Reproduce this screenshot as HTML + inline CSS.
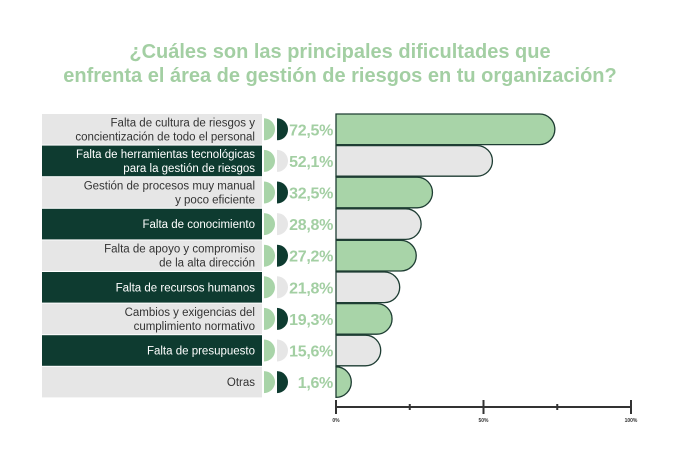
<!DOCTYPE html>
<html><head><meta charset="utf-8"><style>
body{margin:0;background:#fff;width:681px;height:464px;overflow:hidden;font-family:"Liberation Sans",sans-serif}
</style></head><body>
<svg id="c" width="681" height="464">
<text x="340" y="58" text-anchor="middle" font-size="20" font-weight="bold" fill="#a3cfa3">¿Cuáles son las principales dificultades que</text>
<text x="340" y="82" text-anchor="middle" font-size="20" font-weight="bold" fill="#a3cfa3">enfrenta el área de gestión de riesgos en tu organización?</text>
<g id="rows"></g>
<g id="axis"></g>
</svg>
<script>
const categories=[["Falta de cultura de riesgos y","concientización de todo el personal"],["Falta de herramientas tecnológicas","para la gestión de riesgos"],["Gestión de procesos muy manual","y poco eficiente"],["Falta de conocimiento"],["Falta de apoyo y compromiso","de la alta dirección"],["Falta de recursos humanos"],["Cambios y exigencias del","cumplimiento normativo"],["Falta de presupuesto"],["Otras"]];
const values=[72.5,52.1,32.5,28.8,27.2,21.8,19.3,15.6,1.6];
const labels=["72,5%","52,1%","32,5%","28,8%","27,2%","21,8%","19,3%","15,6%","1,6%"];
const ticks=[0,25,50,75,100];
const tickLabels={0:"0%",50:"50%",100:"100%"};
const NS="http://www.w3.org/2000/svg";
const x0=336,x1=631,top0=114,pitch=31.6;
const xs=v=>x0+(x1-x0)*v/100;
const barEnd=v=>333+v*3.06;
function mk(t,a,p){const e=document.createElementNS(NS,t);for(const k in a)e.setAttribute(k,a[k]);p.appendChild(e);return e;}
const G=document.getElementById('rows');
const green="#a8d4a8",dark="#0e3b30",gray="#e6e6e6";
values.forEach((v,i)=>{
 const y=top0+i*pitch,h=pitch-1,odd=i%2==0;
 const bg=mk('rect',{x:42,y:y,width:220,height:h,fill:odd?gray:dark},G);
 
 const lines=categories[i];
 lines.forEach((s,j)=>{
  const ty=y+h/2+4+(lines.length==2?(j==0?-7:7):0);
  const t=mk('text',{x:255,y:ty,'text-anchor':'end','font-size':11.5,fill:odd?"#333":"#fff"},G);
  t.textContent=s;
  
 });
 const cy=y+h/2,r=11;
 const ic1=mk('path',{d:`M264 ${cy-r} A${r} ${r} 0 0 1 264 ${cy+r} Z`,fill:green},G);
 
 const ic2=mk('path',{d:`M277 ${cy-r} A${r} ${r} 0 0 1 277 ${cy+r} Z`,fill:odd?dark:gray},G);
 
 const pl=mk('text',{x:333,y:cy+6,'text-anchor':'end','font-size':16,'font-weight':'bold','letter-spacing':-0.3,fill:"#a3cfa3"},G);
 pl.textContent=labels[i];
 
 const rr=h/2,xe=Math.max(barEnd(v),x0+rr),xl=xe-rr;
 const b=mk('path',{d:`M${x0} ${y} L${xl} ${y} A${rr} ${rr} 0 0 1 ${xl} ${y+h} L${x0} ${y+h} Z`,fill:odd?green:gray,stroke:"#1e3d33","stroke-width":1.3},G);
 
});
const A=document.getElementById('axis');
const al=mk('line',{x1:x0,x2:x1,y1:407,y2:407,stroke:"#333","stroke-width":2},A);

ticks.forEach(t=>{
 const big=t%50==0;
 const tl=mk('line',{x1:xs(t),x2:xs(t),y1:big?400:404,y2:big?414:410,stroke:"#333","stroke-width":2},A);
 
 if(tickLabels[t]){const tx=mk('text',{x:xs(t),y:422,'text-anchor':'middle','font-size':5,'font-weight':'bold',fill:"#333"},A);tx.textContent=tickLabels[t];
 }
});
</script>
</body></html>
